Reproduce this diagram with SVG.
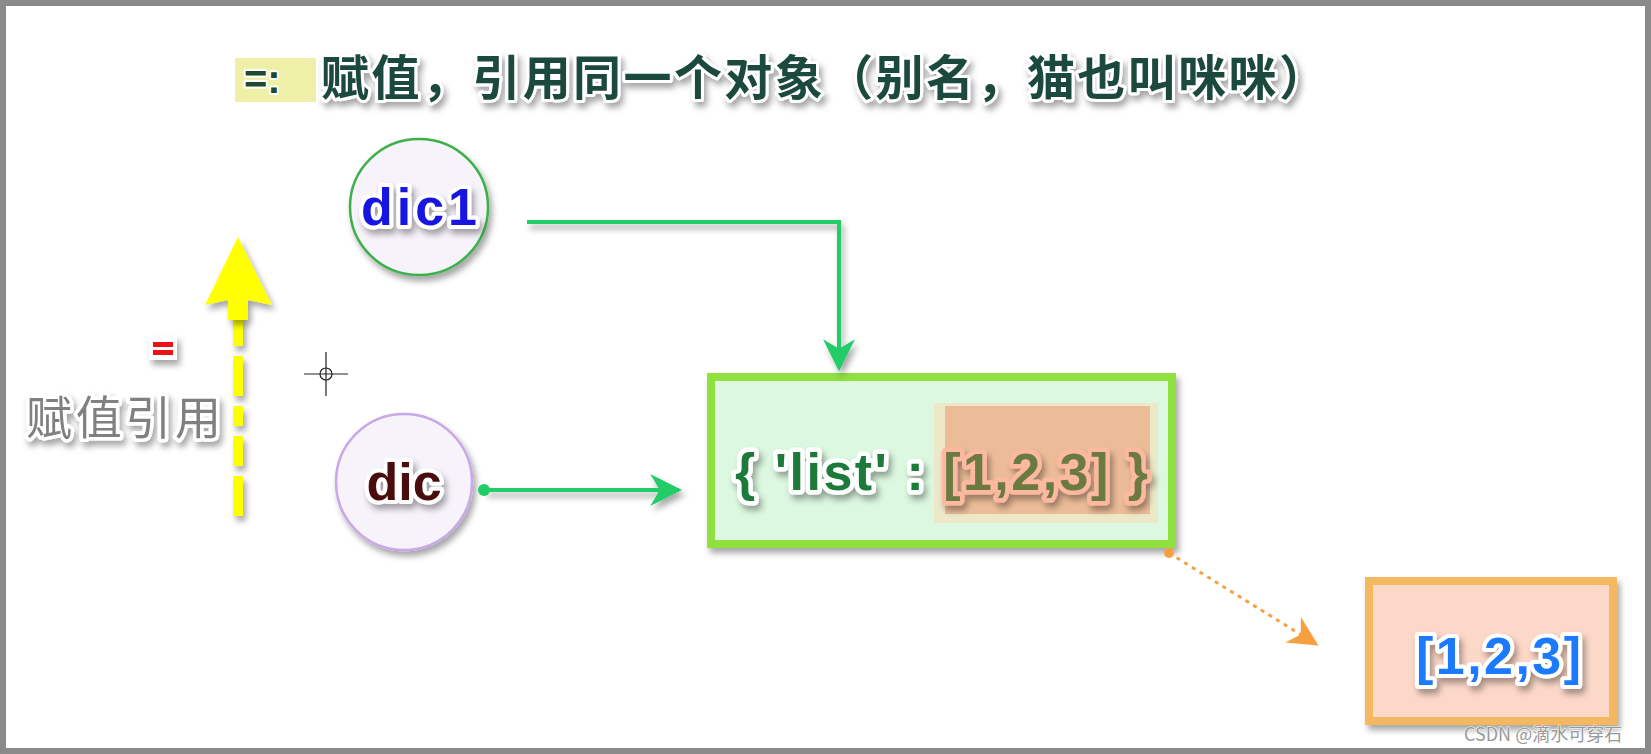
<svg xmlns="http://www.w3.org/2000/svg" width="1651" height="754" viewBox="0 0 1651 754">
<defs>
<filter id="sh" filterUnits="userSpaceOnUse" x="0" y="0" width="1651" height="754"><feDropShadow dx="3" dy="5" stdDeviation="3" flood-color="#000" flood-opacity="0.35"/></filter>
<marker id="ag" viewBox="0 0 10 10" refX="9" refY="5" markerWidth="8" markerHeight="8" markerUnits="strokeWidth" orient="auto"><path d="M0,0 L10,5 L0,10 L3,5 Z" fill="#20cc66"/></marker>
<marker id="ao" viewBox="0 0 10 10" refX="9" refY="5" markerWidth="10" markerHeight="10" markerUnits="strokeWidth" orient="auto"><path d="M0,0 L10,5 L0,10 L3,5 Z" fill="#f7a040"/></marker>
</defs>
<style>
text{font-family:"Liberation Sans","Noto Sans CJK SC",sans-serif;paint-order:stroke;stroke:#fff;stroke-linejoin:round}
.cjk{font-family:"Noto Sans CJK SC",sans-serif}
.b{font-weight:bold}
</style>
<rect x="0" y="0" width="1651" height="754" fill="#fff"/>
<rect x="3" y="3" width="1645" height="748" fill="none" stroke="#8a8a8a" stroke-width="6"/>
<g id="title">
<rect x="235" y="58" width="81" height="44" fill="#eef0a8"/>
<text x="244" y="93" font-size="40" class="b" fill="#1d4a2a" stroke-width="4">=:</text>
<text x="321" y="95" font-size="48" class="cjk b" fill="#1d4a3e" stroke-width="6" filter="url(#sh)" textLength="1006">赋值，引用同一个对象（别名，猫也叫咪咪）</text>
</g>
<g id="dic1">
<ellipse cx="419" cy="207" rx="69" ry="68" fill="#f7f3fb" stroke="#3cb04a" stroke-width="2.5" filter="url(#sh)"/>
<text x="419" y="225" font-size="52" class="b" text-anchor="middle" fill="#1212e0" stroke-width="8" filter="url(#sh)" textLength="116">dic1</text>
</g>
<g id="dic">
<ellipse cx="404" cy="482" rx="68" ry="68" fill="#f7f3fb" stroke="#c8a8e8" stroke-width="2.5" filter="url(#sh)"/>
<text x="404" y="500" font-size="52" class="b" text-anchor="middle" fill="#4a0808" stroke-width="8" filter="url(#sh)">dic</text>
</g>
<g id="dict">
<rect x="711" y="377" width="461" height="167" fill="#dcf8e0" stroke="#90e040" stroke-width="8" filter="url(#sh)"/>
<rect x="934" y="403" width="224" height="120" fill="#ece8c8"/>
<rect x="945" y="406" width="205" height="108" fill="#ecbc98"/>
<text x="735" y="490" font-size="52" class="b" stroke-width="9" filter="url(#sh)" textLength="413"><tspan fill="#1a7a3a">{ 'list' : </tspan><tspan fill="#6a7a40" stroke="#fdb8a0">[1,2,3] }</tspan></text>
</g>
<g id="list">
<rect x="1369" y="581" width="244" height="140" fill="#fcd8c8" stroke="#f4b860" stroke-width="8" filter="url(#sh)"/>
<text x="1416" y="674" font-size="52" class="b" fill="#1a7aff" stroke-width="8" filter="url(#sh)" textLength="165">[1,2,3]</text>
</g>
<g id="side">
<path d="M238,516 L238,300" stroke="#ffff00" stroke-width="10" stroke-dasharray="40,10,30,10,20,10" filter="url(#sh)"/>
<path d="M238,237 L272,305 L248,300 L248,320 L228,320 L228,300 L205,305 Z" fill="#ffff00" filter="url(#sh)"/>
<rect x="149" y="336" width="28" height="24" fill="#fff" filter="url(#sh)"/>
<rect x="153" y="342" width="20" height="5" fill="#ee1111"/>
<rect x="153" y="350" width="20" height="5" fill="#ee1111"/>
<text x="26" y="434" font-size="46" class="cjk" fill="#808080" stroke-width="7" filter="url(#sh)" textLength="195">赋值引用</text>
<g stroke="#222" stroke-width="1.2" fill="none"><path d="M326,352 V396 M304,374 H348"/><circle cx="326" cy="374" r="6"/></g>
</g>
<g id="connectors">
<path d="M527,222 H839 V368" fill="none" stroke="#20cc66" stroke-width="4" marker-end="url(#ag)" filter="url(#sh)"/>
<path d="M484,490 H679" fill="none" stroke="#20cc66" stroke-width="4" marker-end="url(#ag)" filter="url(#sh)"/>
<circle cx="484" cy="490" r="6" fill="#20cc66"/>
<path d="M1169,553 L1316,644" fill="none" stroke="#f7a040" stroke-width="3" stroke-dasharray="4,5" marker-end="url(#ao)"/>
<circle cx="1169" cy="553" r="5" fill="#f7a040"/>
</g>
<text x="1464" y="741" font-size="18" class="cjk" fill="#999" stroke="none">CSDN @滴水可穿石</text>
</svg>
